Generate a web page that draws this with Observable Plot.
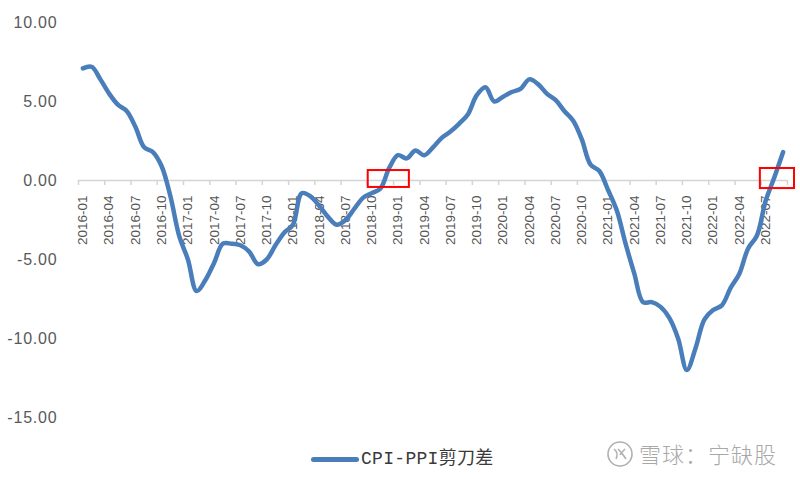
<!DOCTYPE html>
<html>
<head>
<meta charset="utf-8">
<script src="https://cdn.jsdelivr.net/npm/d3@7"></script>
<script src="https://cdn.jsdelivr.net/npm/@observablehq/plot@0.6"></script>
<style>
  html, body { margin: 0; padding: 0; background: #fff; }
  #wrap { position: relative; width: 800px; height: 479px; overflow: hidden; font-family: "Liberation Sans", Arial, sans-serif; }
  #legend { position: absolute; left: 0; top: 440px; width: 800px; height: 39px; }
  #legend .swatch { position: absolute; left: 311px; top: 17px; width: 48px; height: 5px; border-radius: 3px; background: #4a7ebb; }
  #legend .label { position: absolute; left: 361px; top: 7px; font-size: 18px; line-height: 24px; color: #3a3a3a;
    font-family: "Liberation Mono", "Noto Sans CJK SC", monospace; letter-spacing: 0.3px; }
  #watermark { position: absolute; left: 606px; top: 438px; height: 30px; color: #a8a8a8; }
  #watermark svg { position: absolute; left: 0; top: 2px; }
  #watermark .wt { position: absolute; left: 33px; top: 0; font-size: 22px; line-height: 30px; white-space: nowrap;
    font-family: "Noto Sans CJK SC", sans-serif; font-weight: 300; letter-spacing: 1px; }
</style>
</head>
<body>
<div id="wrap">
  <div id="chart"></div>
  <div id="legend"><span class="swatch"></span><span class="label">CPI-PPI剪刀差</span></div>
  <div id="watermark">
    <svg width="28" height="28" viewBox="0 0 28 28">
      <circle cx="14" cy="14" r="12" fill="none" stroke="#b0b0b0" stroke-width="1.6"/>
      <path d="M8 9 Q13 13 10 19 M12 9 Q17 14 20 19 M19 9 Q15 13 14 15" fill="none" stroke="#b0b0b0" stroke-width="1.6"/>
    </svg>
    <span class="wt">雪球：宁缺股</span>
  </div>
</div>
<script>
// ---- data ----
const startYear = 2016;
const monthCount = 81; // 2016-01 .. 2022-09
const months = [];
for (let k = 0; k < monthCount; k++) {
  const y = startYear + Math.floor(k / 12), m = (k % 12) + 1;
  months.push(`${y}-${String(m).padStart(2, "0")}`);
}
const spread = [
  // 2016
  7.1, 7.2, 6.4, 5.5, 4.8, 4.4, 3.4, 2.1, 1.8, 0.9, -1.0, -3.5,
  // 2017
  -5.0, -7.0, -6.3, -5.2, -4.0, -4.0, -4.1, -4.5, -5.3, -5.0, -4.1, -3.3,
  // 2018
  -2.8, -0.8, -1.0, -1.6, -2.3, -2.8, -2.5, -1.8, -1.1, -0.8, -0.5, 0.8,
  // 2019
  1.6, 1.4, 1.9, 1.6, 2.1, 2.7, 3.1, 3.6, 4.2, 5.4, 5.9, 5.0,
  // 2020
  5.3, 5.6, 5.8, 6.4, 6.1, 5.5, 5.1, 4.4, 3.8, 2.6, 1.0, 0.6,
  // 2021
  -0.6, -1.9, -4.0, -5.9, -7.7, -7.7, -8.0, -8.7, -10.0, -12.0, -10.6, -8.8,
  // 2022
  -8.2, -7.9, -6.8, -5.9, -4.3, -3.5, -1.3, 0.2, 1.8
];
const yTicks = [-15, -10, -5, 0, 5, 10];
const labelEvery = 3;
// highlighted boxes (month-index ranges and value ranges)
const boxX1 = [32.6, 77.4];
const boxX2 = [37.3, 81.3];
const boxY1 = [0.63, 0.76];
const boxY2 = [-0.44, -0.51];

// ---- build ----
const series = spread.map((v, i) => ({i, v, month: months[i]}));
const labelIdx = d3.range(0, monthCount, labelEvery);
const tickBounds = d3.range(-0.5, monthCount, labelEvery);
const boxes = boxX1.map((x1, k) => ({x1, x2: boxX2[k], y1: boxY1[k], y2: boxY2[k]}));

const chart = Plot.plot({
  width: 800,
  height: 440,
  marginLeft: 78,
  marginRight: 13,
  marginTop: 22,
  marginBottom: 23,
  style: {fontFamily: "'Liberation Sans', Arial, sans-serif", background: "#fff"},
  x: {type: "linear", domain: [-0.5, monthCount - 0.5], axis: null},
  y: {domain: [-15, 10], axis: null},
  marks: [
    Plot.axisY({ticks: yTicks, tickSize: 0, tickPadding: 21, fontSize: 16, fill: "#595959", label: null,
      tickFormat: d => d.toFixed(2)}),
    Plot.ruleY([0], {stroke: "#d4d4d4", strokeWidth: 1.5}),
    Plot.ruleX(tickBounds, {x: d => d, y1: 0, y2: -0.32, stroke: "#d4d4d4", strokeWidth: 1.5}),
    Plot.text(labelIdx, {x: d => d, y: 0, text: d => months[d], rotate: -90, textAnchor: "end",
      dy: 15, fontSize: 13.5, fill: "#555555", ariaLabel: "month-label"}),
    Plot.line(series, {x: "i", y: "v", curve: "catmull-rom", stroke: "#4a7ebb", strokeWidth: 4.5,
      strokeLinejoin: "round", strokeLinecap: "round"}),
    Plot.rect(boxes, {x1: "x1", x2: "x2", y1: "y1", y2: "y2", fill: "none", stroke: "#ff0000", strokeWidth: 2, clip: false})
  ]
});
document.getElementById("chart").appendChild(chart);
d3.select(chart).selectAll('g[aria-label="month-label"] text').attr("letter-spacing", "1.3px");
d3.select(chart).selectAll('g[aria-label="y-axis tick label"] text').attr("letter-spacing", "0.8px");
</script>
</body>
</html>
